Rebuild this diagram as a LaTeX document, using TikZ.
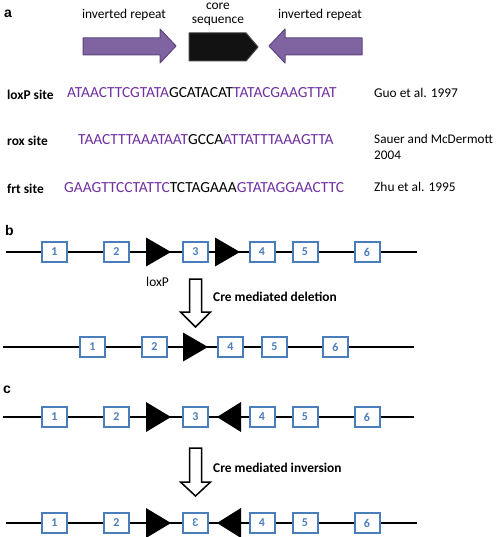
\documentclass[tikz,border=0pt]{standalone}
\usepackage{fontspec}
\usepackage{graphicx}
\setmainfont{Carlito}
\newfontfamily\panelfont{Liberation Sans}
\usepackage{tikz}
\usetikzlibrary{arrows.meta, positioning}

\definecolor{seqpurple}{HTML}{7030A0}
\definecolor{irfill}{HTML}{8064A2}
\definecolor{irdraw}{HTML}{5C4580}
\definecolor{exonblue}{HTML}{4A7EBB}

\tikzset{
  panel/.style={anchor=base west, inner sep=0pt, font=\panelfont\fontsize{14}{16}\selectfont\bfseries},
  lbl/.style={inner sep=0pt, font=\fontsize{13.4}{15}\selectfont},
  site/.style={anchor=west, inner sep=0pt, font=\fontsize{13.4}{15}\selectfont\bfseries},
  seq/.style={anchor=west, inner sep=0pt, font=\fontsize{15.4}{17}\selectfont},
  irarrow/.style={fill=irfill, draw=irdraw, line width=1pt, line join=round},
  backbone/.style={line width=2.6pt},
  exon/.style={draw=exonblue, line width=2pt, fill=white, minimum width=25pt, minimum height=20pt, inner sep=0pt, text=exonblue, font=\bfseries\fontsize{12}{13}\selectfont},
  lox/.style={fill=black},
  hollow/.style={draw=black, fill=white, line width=1.5pt, line join=miter}
}

\begin{document}
\begin{tikzpicture}[x=1pt, y=-1pt]
  \useasboundingbox (0,0) rectangle (500,537);

  % panel a
  \node[panel] (pa) at (4,17.5) {a};
  \node[lbl] (irl) at (124,14.5) {inverted repeat};
  \node[lbl, align=center, font=\fontsize{13.4}{14}\selectfont] (core) at (218,14) {core\\sequence};
  \node[lbl] (irr) at (320,14.5) {inverted repeat};
  \draw[irarrow] (83,38) -- (160,38) -- (160,29) -- (176,46) -- (160,63) -- (160,55) -- (83,55) -- cycle;
  \draw[fill=black!93, draw=black!75, line width=1pt, line join=round] (189,33) -- (246,33) -- (258,47) -- (246,61) -- (189,61) -- cycle;
  \draw[irarrow] (362,38) -- (285,38) -- (285,29) -- (269,46) -- (285,63) -- (285,55) -- (362,55) -- cycle;

  \node[site] (loxs) at (7,95) {loxP site};
  \node[seq] (loxq) at (67,93) {\textcolor{seqpurple}{ATAACTTCGTATA}GCATACAT\textcolor{seqpurple}{TATACGAAGTTAT}};
  \node[lbl, anchor=west] (loxr) at (374,93) {Guo et al. 1997};

  \node[site] (roxs) at (7,141) {rox site};
  \node[seq] (roxq) at (78,140) {\textcolor{seqpurple}{TAACTTTAAATAAT}GCCA\textcolor{seqpurple}{ATTATTTAAAGTTA}};
  \node[lbl, anchor=west, align=left, font=\fontsize{13.2}{16}\selectfont] (roxr) at (374,147) {Sauer and McDermott\\2004};

  \node[site] (frts) at (7,189) {frt site};
  \node[seq] (frtq) at (64,188) {\textcolor{seqpurple}{GAAGTTCCTATTC}TCTAGAAA\textcolor{seqpurple}{GTATAGGAACTTC}};
  \node[lbl, anchor=west] (frtr) at (374,187) {Zhu et al. 1995};

  % panel b
  \node[panel] (pb) at (5,235) {b};
  \coordinate (b1L) at (6,252);
  \coordinate (b1R) at (417,252);
  \draw[backbone] (b1L) -- (b1R);
  \foreach \n/\x in {1/54.5,2/116.5,3/195.5,4/262,5/305,6/367}
    \node[exon] (b1e\n) at (\x,252) {\n};
  \coordinate (b1x1) at (171,252);
  \coordinate (b1x2) at (240,252);
  \fill[lox] (b1x1) -- ++(-25,-14.5) -- ++(0,29) -- cycle;
  \fill[lox] (b1x2) -- ++(-25,-14.5) -- ++(0,29) -- cycle;
  \node[lbl] (loxp) at (157.5,282) {loxP};

  \coordinate (bdn) at (195.5,279);
  \draw[hollow] (bdn) ++(-6,0) -- ++(12,0) -- ++(0,33) -- ++(9,0) -- ++(-15,15) -- ++(-15,-15) -- ++(9,0) -- cycle;
  \node[lbl, anchor=west, font=\fontsize{13.4}{15}\selectfont\bfseries] (del) at (213,297) {Cre mediated deletion};

  \coordinate (b2L) at (3,347);
  \coordinate (b2R) at (414,347);
  \draw[backbone] (b2L) -- (b2R);
  \foreach \n/\x in {1/92.5,2/154.5,4/230.5,5/274.5,6/335.5}
    \node[exon] (b2e\n) at (\x,347) {\n};
  \coordinate (b2x1) at (208,347);
  \fill[lox] (b2x1) -- ++(-25,-14.5) -- ++(0,29) -- cycle;

  % panel c
  \node[panel] (pc) at (3,393.5) {c};
  \coordinate (c1L) at (3,417);
  \coordinate (c1R) at (414,417);
  \draw[backbone] (c1L) -- (c1R);
  \foreach \n/\x in {1/54.5,2/116.5,3/195.5,4/262,5/305,6/367}
    \node[exon] (c1e\n) at (\x,417) {\n};
  \coordinate (c1x1) at (171,417);
  \coordinate (c1x2) at (217,417);
  \fill[lox] (c1x1) -- ++(-25,-15) -- ++(0,30) -- cycle;
  \fill[lox] (c1x2) -- ++(24,-15) -- ++(0,30) -- cycle;

  \coordinate (cdn) at (195.5,448);
  \draw[hollow] (cdn) ++(-6,0) -- ++(12,0) -- ++(0,34) -- ++(9,0) -- ++(-15,14) -- ++(-15,-14) -- ++(9,0) -- cycle;
  \node[lbl, anchor=west, font=\fontsize{13.4}{15}\selectfont\bfseries] (inv) at (213,468) {Cre mediated inversion};

  \coordinate (c2L) at (6,523);
  \coordinate (c2R) at (417,523);
  \draw[backbone] (c2L) -- (c2R);
  \foreach \n/\x in {1/54.5,2/116.5,4/262,5/305,6/367}
    \node[exon] (c2e\n) at (\x,523) {\n};
  \node[exon] (c2e3) at (195.5,523) {\reflectbox{3}};
  \coordinate (c2x1) at (171,523);
  \coordinate (c2x2) at (217,523);
  \fill[lox] (c2x1) -- ++(-25,-15) -- ++(0,30) -- cycle;
  \fill[lox] (c2x2) -- ++(24,-15) -- ++(0,30) -- cycle;
\end{tikzpicture}
\end{document}
